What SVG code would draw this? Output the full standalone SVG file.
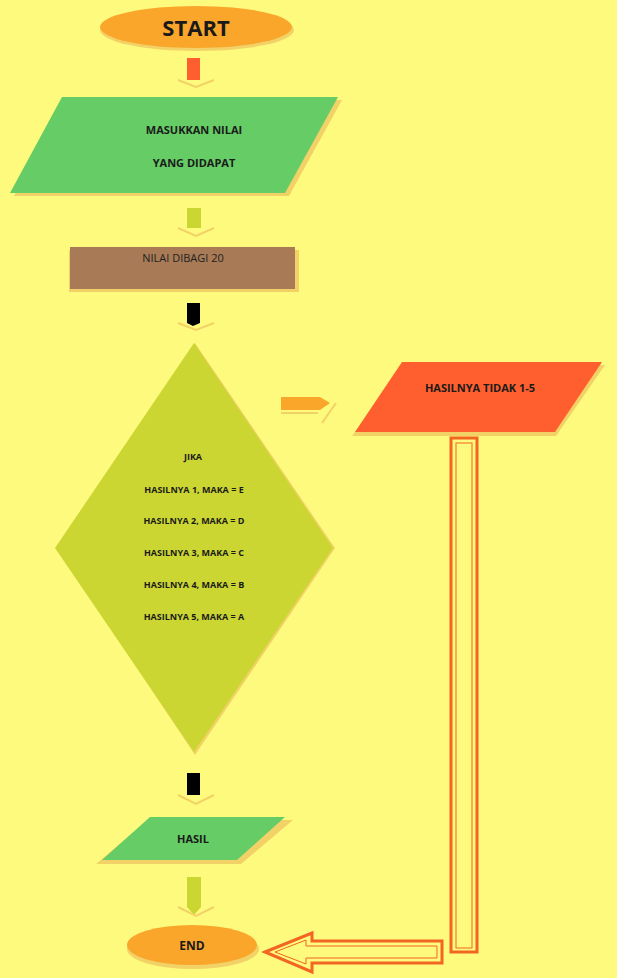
<svg xmlns="http://www.w3.org/2000/svg" width="617" height="978" viewBox="0 0 617 978">
<style>
.t{font-family:"Open Sans","Liberation Sans",sans-serif;font-weight:bold;fill:#1a1a1a;text-anchor:middle}
.sh{fill:none;stroke:#F2D266;stroke-width:3}
.chev{fill:none;stroke:#F2D266;stroke-width:2}
</style>
<rect width="617" height="978" fill="#FEFA7E"/>
<g id="start">
<ellipse cx="197" cy="30" rx="97" ry="21" fill="#F2D266"/>
<ellipse cx="196" cy="27" rx="96" ry="21" fill="#F9A62B"/>
<text class="t" x="196" y="36" font-size="22">START</text>
</g>
<g id="input">
<polygon points="14,196 66,100 342,100 289,196" fill="#F2D266"/>
<polygon points="10,193 62,97 338,97 285,193" fill="#66CC66"/>
<text class="t" x="194" y="134" font-size="11">MASUKKAN NILAI</text>
<text class="t" x="194" y="167" font-size="11">YANG DIDAPAT</text>
</g>
<g id="process">
<rect x="69" y="250" width="230" height="42" fill="#F2D266"/>
<rect x="70" y="247" width="225" height="42" fill="#A87A56"/>
<text x="183" y="262" font-size="11" text-anchor="middle" font-family="Open Sans,Liberation Sans,sans-serif" fill="#222">NILAI DIBAGI 20</text>
</g>
<g id="decision">
<polygon points="195,343 335,548 195,755 57,548" fill="#F2D266"/>
<polygon points="194,343 333,548 194,752 55,548" fill="#CCD633"/>
<g font-size="9">
<text class="t" x="193" y="460">JIKA</text>
<text class="t" x="194" y="493">HASILNYA 1, MAKA = E</text>
<text class="t" x="194" y="524">HASILNYA 2, MAKA = D</text>
<text class="t" x="194" y="556">HASILNYA 3, MAKA = C</text>
<text class="t" x="194" y="588">HASILNYA 4, MAKA = B</text>
<text class="t" x="194" y="620">HASILNYA 5, MAKA = A</text>
</g>
</g>
<g id="notinrange">
<polygon points="352,436 403,365 605,365 556,436" fill="#F2D266"/>
<polygon points="355,432 402,362 602,362 555,432" fill="#FF5F2E"/>
<text class="t" x="480" y="392" font-size="11">HASILNYA TIDAK 1-5</text>
</g>
<g id="hasil">
<polygon points="96,864 148,820 293,820 241,864" fill="#F2D266"/>
<polygon points="102,860 150,817 285,817 237,860" fill="#66CC66"/>
<text class="t" x="193" y="843" font-size="11">HASIL</text>
</g>
<g id="end">
<ellipse cx="193" cy="949" rx="66" ry="20" fill="#F2D266"/>
<ellipse cx="192" cy="945" rx="65" ry="20" fill="#F9A62B"/>
<text class="t" x="192" y="950" font-size="12" fill="#5a0000">END</text>
</g>
<g id="connectors">
<rect x="187" y="58" width="13" height="22" fill="#FF5F2E"/>
<polyline class="chev" points="178,80 196,87 214,80"/>
<rect x="187" y="208" width="14" height="20" fill="#CCD633"/>
<polyline class="chev" points="178,228 196,236 214,228"/>
<rect x="187" y="303" width="13" height="20" fill="#000"/>
<polygon points="187,323 193,326 200,323" fill="#000"/>
<polyline class="chev" points="178,323 196,330 214,323"/>
<polygon points="281,397 320,397 330,403 320,410 281,410" fill="#F9A62B"/>
<line x1="281" y1="413" x2="318" y2="413" stroke="#F2D266" stroke-width="2"/>
<line x1="336" y1="403" x2="322" y2="423" stroke="#F2D266" stroke-width="2"/>
<rect x="187" y="773" width="13" height="22" fill="#000"/>
<polyline class="chev" points="178,795 196,804 214,795"/>
<rect x="187" y="877" width="14" height="30" fill="#CCD633"/>
<polygon points="187,907 194,915 201,907" fill="#CCD633"/>
<polyline class="chev" points="178,907 196,916 214,907"/>
<rect x="451" y="438" width="26" height="514" fill="#FEFA7E" stroke="#F26522" stroke-width="3"/>
<rect x="456" y="443" width="16" height="505" fill="none" stroke="#F26522" stroke-width="1"/>
<polygon points="265,952 312,933 312,941 442,941 442,963 312,963 312,972" fill="#FEFA7E" stroke="#F26522" stroke-width="3" stroke-linejoin="miter"/>
<polygon points="275,952 306,940 306,946 437,946 437,958 306,958 306,964" fill="none" stroke="#F26522" stroke-width="1"/>
</g>
</svg>
